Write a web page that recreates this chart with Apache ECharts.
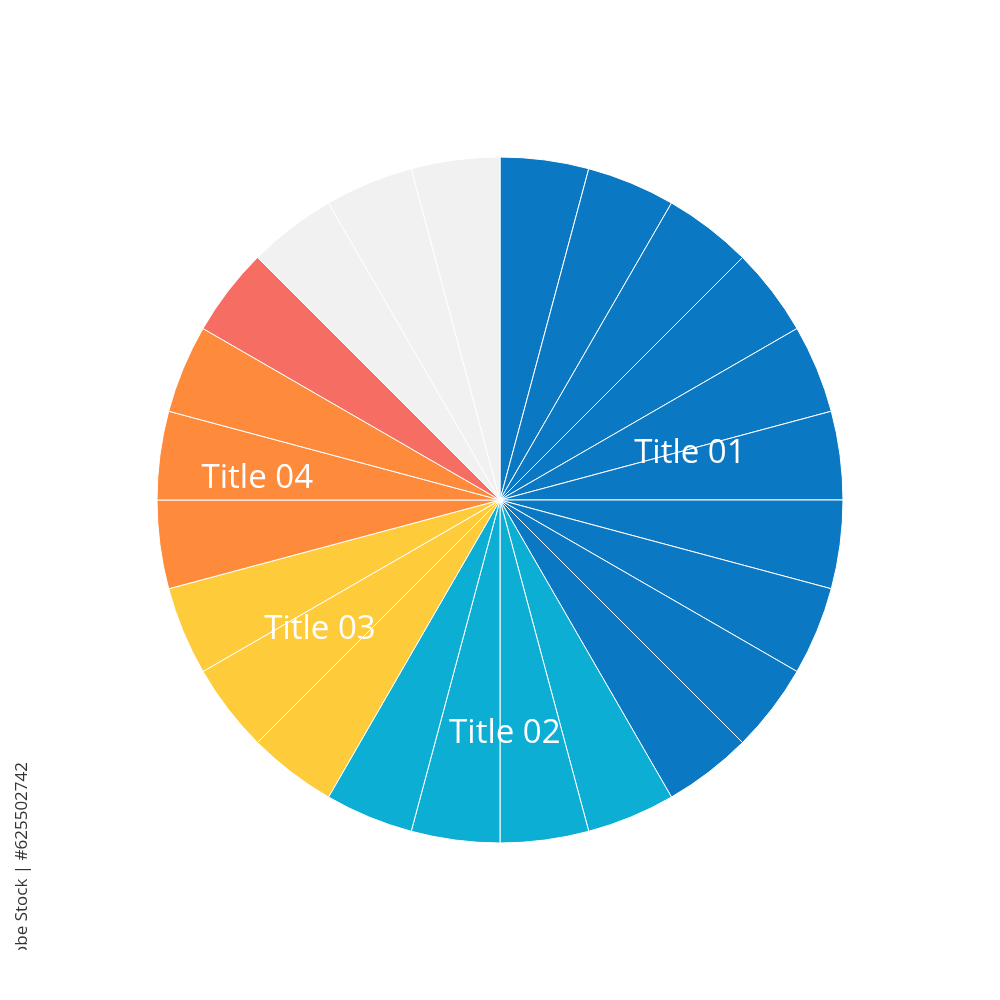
<!DOCTYPE html>
<html><head><meta charset="utf-8">
<script src="https://cdn.jsdelivr.net/npm/echarts@6/dist/echarts.min.js"></script>
<style>html,body{margin:0;padding:0;background:#fff}#c{width:1000px;height:1000px}</style>
</head><body><div id="c"></div>
<script>
const groupNames = ['Title 01', 'Title 02', 'Title 03', 'Title 04', '', ''];
const groupSlices = [10, 4, 3, 3, 1, 3];
const sliceValue = 1;
const groupColors = ['#0b78c4', '#0caed4', '#fecb3a', '#fe8a3c', '#f66e63', '#f1f1f1'];
const labelRadiusFrac = [0.571, 0.674, 0.644, 0.711, 0, 0];
const labelAngleShiftDeg = [0.8, -1.2, 2.1, -1.9, 0, 0];

const data = [];
groupSlices.forEach((n, g) => {
  for (let i = 0; i < n; i++) data.push({ value: sliceValue, name: 'g' + g + '_' + i, itemStyle: { color: groupColors[g] } });
});

const cx = 500, cy = 500, R = 343;
const total = data.reduce((s, d) => s + d.value, 0);
const graphics = [];
let acc = 0;
groupSlices.forEach((n, g) => {
  const mid = (acc + n * sliceValue / 2) / total * 2 * Math.PI + labelAngleShiftDeg[g] * Math.PI / 180;
  acc += n * sliceValue;
  if (!groupNames[g]) return;
  const r = R * labelRadiusFrac[g];
  graphics.push({
    type: 'text', x: cx + r * Math.sin(mid), y: cy - r * Math.cos(mid) + 2,
    style: { text: groupNames[g], fill: '#fff', font: '33px "Open Sans"', align: 'center', verticalAlign: 'middle' },
    z: 10
  });
});
graphics.push({
  type: 'text', x: 22, y: 762, rotation: Math.PI / 2,
  style: { text: 'Adobe Stock | #625502742', fill: '#333', font: '17px "Open Sans"', align: 'right', verticalAlign: 'middle' }
});
graphics.push({
  type: 'rect', shape: { x: 0, y: 950, width: 60, height: 50 }, style: { fill: '#fff' }, z: 20
});

const chart = echarts.init(document.getElementById('c'));
chart.setOption({
  animation: false,
  series: [{
    type: 'pie', center: [cx, cy], radius: R, startAngle: 90, clockwise: true,
    label: { show: false }, labelLine: { show: false }, silent: true,
    itemStyle: { borderColor: '#fff', borderWidth: 1 },
    data: data
  }],
  graphic: graphics
});
</script></body></html>
